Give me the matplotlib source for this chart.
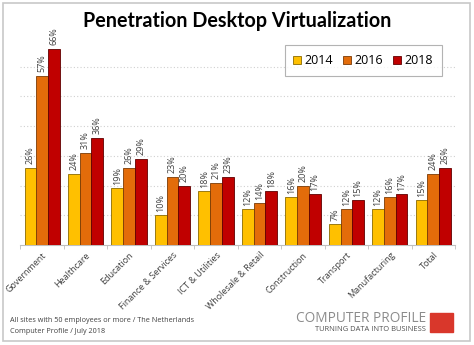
import matplotlib.pyplot as plt
import numpy as np
from matplotlib.patches import Rectangle

categories = ["Government", "Healthcare", "Education", "Finance & Services",
              "ICT & Utilities", "Wholesale & Retail", "Construction",
              "Transport", "Manufacturing", "Total"]
years = ["2014", "2016", "2018"]
pct_2014 = [26, 24, 19, 10, 18, 12, 16, 7, 12, 15]
pct_2016 = [57, 31, 26, 23, 21, 14, 20, 12, 16, 24]
pct_2018 = [66, 36, 29, 20, 23, 18, 17, 15, 17, 26]

colors = ["#FFC000", "#E36C0A", "#C00000"]
edges = ["#8A6A00", "#7A3A05", "#600000"]

fig = plt.figure(figsize=(4.74, 3.45), dpi=100)
ax = fig.add_axes([0.043, 0.29, 0.917, 0.603])

x = np.arange(len(categories))
width = 0.27
for i, (vals, yr) in enumerate(zip([pct_2014, pct_2016, pct_2018], years)):
    pos = x + (i - 1) * width
    ax.bar(pos, vals, width, color=colors[i], edgecolor=edges[i],
           linewidth=0.6, label=yr, zorder=3)
    for px, v in zip(pos, vals):
        ax.text(px, v + 1.2, f"{v}%", rotation=90, ha="center", va="bottom",
                fontsize=6.5, color="#404040", family="Open Sans")

ax.set_xlim(-0.5, len(categories) - 0.5)
ax.set_ylim(0, 70)
ax.set_yticks(range(10, 70, 10))
ax.yaxis.grid(True, linestyle=(0, (1, 2)), color="#D0D0D0", linewidth=0.8)
ax.tick_params(axis="y", left=False, labelleft=False)
for side in ["top", "right", "left"]:
    ax.spines[side].set_visible(False)
ax.spines["bottom"].set_color("#BFBFBF")

ax.set_xticks(x)
ax.set_xticklabels(categories, rotation=45, ha="right", rotation_mode="anchor",
                   fontsize=6.5, color="#404040", family="Open Sans")
ax.tick_params(axis="x", which="major", length=0, pad=4)
ax.set_xticks(np.arange(-0.5, len(categories)), minor=True)
ax.tick_params(axis="x", which="minor", length=3, color="#BFBFBF")

leg = ax.legend(loc="upper right", bbox_to_anchor=(0.969, 0.96), ncol=3,
                frameon=True, fancybox=False, handlelength=0.6,
                handleheight=0.6, handletextpad=0.3, columnspacing=0.8,
                borderpad=0.7, borderaxespad=0,
                prop={"family": "Open Sans", "size": 9})
leg.get_frame().set_edgecolor("#A0A0A0")
leg.get_frame().set_linewidth(0.8)

fig.text(0.5, 0.94, "Penetration Desktop Virtualization", ha="center",
         va="center", fontsize=14.2, fontweight="bold", family="Lato")

fig.text(0.022, 0.07, "All sites with 50 employees or more / The Netherlands",
         fontsize=5.2, color="#404040", family="Open Sans", va="center")
fig.text(0.022, 0.04, "Computer Profile / July 2018",
         fontsize=5.2, color="#404040", family="Open Sans", va="center")

fig.text(0.899, 0.078, "COMPUTER PROFILE", ha="right", va="center",
         fontsize=9.8, color="#8C8C8C", family="Open Sans")
fig.text(0.899, 0.046, "TURNING DATA INTO BUSINESS", ha="right", va="center",
         fontsize=5.4, color="#505050", family="Open Sans")
fig.patches.append(Rectangle((0.907, 0.038), 0.049, 0.055,
                             transform=fig.transFigure, color="#D9372B"))
fig.patches.append(Rectangle((0.006, 0.012), 0.985, 0.98, fill=False,
                             edgecolor="#C8C8C8", linewidth=1.2,
                             transform=fig.transFigure))

fig.savefig("out.png", dpi=100)
